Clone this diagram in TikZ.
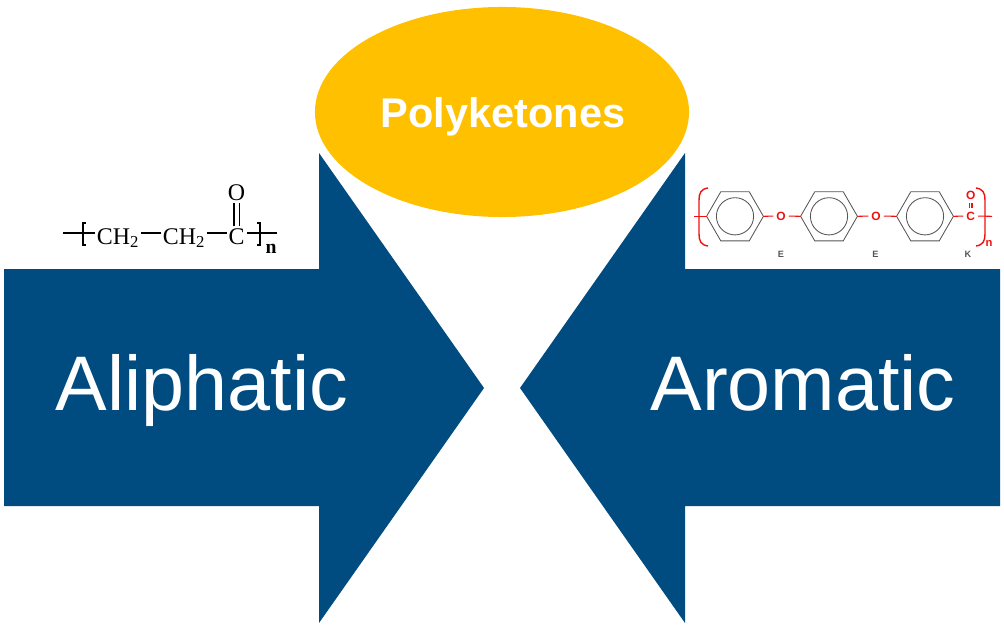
\documentclass[tikz,border=0pt]{standalone}
\usepackage{fontspec}
\setmainfont{Liberation Sans}
\newfontfamily\atomfont{Liberation Serif}
\usepackage{tikz}
\usetikzlibrary{shapes.geometric}
\definecolor{arrowblue}{HTML}{004B80}
\definecolor{ovalgold}{HTML}{FFC000}
\definecolor{ringgrey}{HTML}{555555}
\definecolor{peekred}{HTML}{F01010}
\tikzset{
  bigarrow/.style = {fill = arrowblue, draw = none},
  bigtext/.style = {anchor = base, text = white, font = \fontsize{55pt}{60pt}\selectfont, inner sep = 0},
  ovaltext/.style = {anchor = base, text = white, font = \bfseries\fontsize{29.5pt}{32pt}\selectfont, inner sep = 0},
  atom/.style = {anchor = base, inner sep = 0, font = \atomfont\fontsize{17pt}{18pt}\selectfont},
  bond/.style = {line width = 0.9pt, black},
  ringshape/.style = {regular polygon, regular polygon sides = 6, draw = ringgrey, line width = 0.6pt, minimum size = 1.42cm, inner sep = 0, outer sep = 0},
  ringcircle/.style = {circle, draw = ringgrey, line width = 0.6pt, minimum size = 0.93cm, inner sep = 0},
  redatom/.style = {text = peekred, inner sep = 2pt, font = \bfseries\fontsize{8.5pt}{9pt}\selectfont},
  redbond/.style = {line width = 0.75pt, peekred},
  unitlabel/.style = {text = ringgrey, inner sep = 0, font = \bfseries\fontsize{6.5pt}{7pt}\selectfont}
}

\begin{document}
\begin{tikzpicture}[x = 0.025cm, y = -0.025cm]
\useasboundingbox (0,0) rectangle (1004,630);

\fill [bigarrow] (4,269) -- (319,269) -- (319,153) -- (484,388) -- (319,623) -- (319,506) -- (4,506) -- cycle;
\fill [bigarrow] (1000,269) -- (685,269) -- (685,153) -- (520,388) -- (685,623) -- (685,506) -- (1000,506) -- cycle;
\node [bigtext] (aliphatic) at (202,410) {Aliphatic};
\node [bigtext] (aromatic) at (803,410) {Aromatic};

\node [ellipse, fill = ovalgold, minimum width = 9.35cm, minimum height = 5.25cm, inner sep = 0] (oval) at (502,112) {};
\node [ovaltext] (polyketones) at (503,128) {Polyketones};

% aliphatic repeat unit
\node [atom] (cha) at (118,244) {CH\textsubscript{2}};
\node [atom] (chb) at (184,244) {CH\textsubscript{2}};
\node [atom] (carbon) at (236.5,244) {C};
\node [atom] (oxygen) at (236.5,200) {O};
\node [atom, font = \atomfont\bfseries\fontsize{14pt}{15pt}\selectfont] (unitn) at (271,253) {n};
\coordinate (lefta) at (63,233);
\coordinate (leftb) at (95,233);
\coordinate (righta) at (247,233);
\coordinate (rightb) at (277,233);
\draw [bond] (lefta) -- (leftb);
\draw [bond] (righta) -- (rightb);
\draw [bond, line width = 1.3pt] (86,223) -- (83,223) -- (83,245) -- (86,245);
\draw [bond, line width = 1.3pt] (257,223) -- (260,223) -- (260,245) -- (257,245);
\draw [bond] ([xshift = 1pt]cha.base east |- lefta) -- ([xshift = -1pt]chb.base west |- lefta);
\draw [bond] ([xshift = 1pt]chb.base east |- lefta) -- ([xshift = -1pt]carbon.base west |- lefta);
\draw [bond] (234,203) -- (234,226);
\draw [bond] (239.5,203) -- (239.5,226);

% aromatic repeat unit
\foreach \name/\xpos in {ringa/735, ringb/829, ringc/925}{
  \node [ringshape] (\name) at (\xpos,216.3) {};
  \node [ringcircle] (\name in) at (\xpos,216.3) {};
}
\node [redatom] (oxa) at (781,216) {O};
\node [redatom] (oxb) at (876,216) {O};
\node [redatom] (keto) at (970.7,216) {C};
\node [redatom] (oxc) at (970.7,195) {O};
\node [redatom, font = \bfseries\fontsize{8pt}{8pt}\selectfont, inner sep = 0] (peekn) at (989,243) {n};
\node [unitlabel] (labela) at (781,254) {E};
\node [unitlabel] (labelb) at (875.5,254) {E};
\node [unitlabel] (labelc) at (968,254) {K};
\coordinate (peekleft) at (694,216.3);
\coordinate (peekright) at (992,216.3);
\draw [redbond] (peekleft) -- (ringa.west);
\draw [redbond] (ringa.east) -- (oxa);
\draw [redbond] (oxa) -- (ringb.west);
\draw [redbond] (ringb.east) -- (oxb);
\draw [redbond] (oxb) -- (ringc.west);
\draw [redbond] (ringc.east) -- (keto);
\draw [redbond] (keto) -- (peekright);
\draw [redbond] (969.5,203) -- (969.5,208);
\draw [redbond] (972,203) -- (972,208);
\draw [redbond, line width = 1pt] (708,188) .. controls (701,189) and (699,193) .. (699,200) -- (699,234) .. controls (699,241) and (701,245) .. (708,246);
\draw [redbond, line width = 1pt] (976,188) .. controls (983,189) and (985,193) .. (985,200) -- (985,234) .. controls (985,241) and (983,245) .. (976,246);
\end{tikzpicture}
\end{document}
